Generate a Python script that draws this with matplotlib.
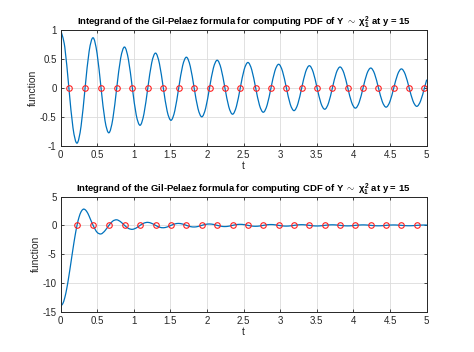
import matplotlib
matplotlib.use("Agg")
import matplotlib.pyplot as plt
from matplotlib.path import Path
from matplotlib.patches import PathPatch
import numpy as np

plt.rcParams['font.family'] = ['Liberation Sans', 'DejaVu Sans']
plt.rcParams['axes.unicode_minus'] = False
plt.rcParams['mathtext.fontset'] = 'custom'
plt.rcParams['mathtext.rm'] = 'Liberation Sans:bold'
plt.rcParams['mathtext.it'] = 'Liberation Sans:bold'
plt.rcParams['mathtext.bf'] = 'Liberation Sans:bold'

# sample positions along t (zeros, extrema and in-between points)
t_vals = [0.0, 0.0561, 0.1120, 0.1679, 0.2234, 0.2788, 0.3338, 0.3885, 0.4431, 0.4973,
          0.5514, 0.6053, 0.6590, 0.7127, 0.7661, 0.8195, 0.8728, 0.9260, 0.9791, 1.0322,
          1.0852, 1.1381, 1.1910, 1.2438, 1.2967, 1.3496, 1.4023, 1.4550, 1.5078, 1.5604,
          1.6131, 1.6658, 1.7184, 1.7711, 1.8237, 1.8763, 1.9289, 1.9814, 2.0340, 2.0865,
          2.1391, 2.1916, 2.2441, 2.2967, 2.3492, 2.4017, 2.4542, 2.5067, 2.5592, 2.6117,
          2.6642, 2.7166, 2.7691, 2.8216, 2.8740, 2.9265, 2.9790, 3.0314, 3.0839, 3.1363,
          3.1888, 3.2412, 3.2937, 3.3461, 3.3985, 3.4510, 3.5034, 3.5558, 3.6083, 3.6607,
          3.7131, 3.7655, 3.8180, 3.8704, 3.9228, 3.9752, 4.0276, 4.0800, 4.1324, 4.1848,
          4.2372, 4.2896, 4.3420, 4.3944, 4.4469, 4.4993, 4.5517, 4.6041, 4.6565, 4.7089,
          4.7613, 4.8137, 4.8661, 4.9184, 4.9708, 5.0]

pdf_vals = [1.000, 0.705, 0.0, -0.688, -0.956, -0.661, 0.0, 0.628, 0.865, 0.595,
            0.0, -0.564, -0.777, -0.536, 0.0, 0.510, 0.705, 0.487, 0.0, -0.467,
            -0.647, -0.448, 0.0, 0.432, 0.600, 0.417, 0.0, -0.403, -0.561, -0.391,
            0.0, 0.379, 0.529, 0.369, 0.0, -0.359, -0.501, -0.350, 0.0, 0.341,
            0.477, 0.333, 0.0, -0.326, -0.456, -0.319, 0.0, 0.313, 0.438, 0.307,
            0.0, -0.301, -0.422, -0.295, 0.0, 0.290, 0.407, 0.285, 0.0, -0.281,
            -0.394, -0.276, 0.0, 0.272, 0.382, 0.268, 0.0, -0.264, -0.370, -0.260,
            0.0, 0.257, 0.360, 0.253, 0.0, -0.250, -0.351, -0.247, 0.0, 0.244,
            0.342, 0.241, 0.0, -0.238, -0.334, -0.235, 0.0, 0.232, 0.327, 0.230,
            0.0, -0.227, -0.320, -0.225, 0.0, 0.134]

cdf_vals = [-14.0, -12.565, -8.820, -4.100, 0.0, 2.370, 2.732, 1.617, 0.0, -1.197,
            -1.486, -0.932, 0.0, 0.752, 0.965, 0.623, 0.0, -0.526, -0.689, -0.452,
            0.0, 0.394, 0.522, 0.347, 0.0, -0.309, -0.413, -0.277, 0.0, 0.250,
            0.337, 0.228, 0.0, -0.208, -0.282, -0.191, 0.0, 0.177, 0.240, 0.164,
            0.0, -0.152, -0.208, -0.142, 0.0, 0.133, 0.182, 0.125, 0.0, -0.117,
            -0.161, -0.111, 0.0, 0.105, 0.144, 0.099, 0.0, -0.094, -0.130, -0.089,
            0.0, 0.085, 0.118, 0.081, 0.0, -0.078, -0.107, -0.074, 0.0, 0.071,
            0.098, 0.068, 0.0, -0.065, -0.091, -0.063, 0.0, 0.060, 0.084, 0.058,
            0.0, -0.056, -0.078, -0.054, 0.0, 0.052, 0.073, 0.050, 0.0, -0.049,
            -0.068, -0.047, 0.0, 0.046, 0.064, 0.057]

# extra points on the steep first rise / first peak of the CDF integrand
cdf_extra_t = [0.028, 0.084, 0.140, 0.196, 0.250, 0.305, 0.317, 0.360]
cdf_extra_v = [-13.63, -10.92, -6.48, -1.86, 1.39, 2.78, 2.817, 2.33]

# marker positions (zeros of the integrands)
pdf_zero_t = [0.1120, 0.3338, 0.5514, 0.7661, 0.9791, 1.1910, 1.4023, 1.6131, 1.8237, 2.0340,
              2.2441, 2.4542, 2.6642, 2.8740, 3.0839, 3.2937, 3.5034, 3.7131, 3.9228, 4.1324,
              4.3420, 4.5517, 4.7613, 4.9708]
cdf_zero_t = [0.2234, 0.4431, 0.6590, 0.8728, 1.0852, 1.2967, 1.5078, 1.7184, 1.9289, 2.1391,
              2.3492, 2.5592, 2.7691, 2.9790, 3.1888, 3.3985, 3.6083, 3.8180, 4.0276, 4.2372,
              4.4469, 4.6565, 4.8661]

cdf_t = np.array(t_vals + cdf_extra_t)
cdf_v = np.array(cdf_vals + cdf_extra_v)
order = np.argsort(cdf_t)
cdf_t, cdf_v = cdf_t[order], cdf_v[order]

line_col = '#0072BD'
ax_col = '#262626'


def smooth_curve(ax, xs, ys, **kw):
    """Draw a smooth (Catmull-Rom style Bezier) line through the given points."""
    xs = np.asarray(xs, float)
    ys = np.asarray(ys, float)
    n = len(xs)
    verts = [(xs[0], ys[0])]
    codes = [Path.MOVETO]
    for i in range(n - 1):
        i0 = max(i - 1, 0)
        i3 = min(i + 2, n - 1)
        c1 = (xs[i] + (xs[i + 1] - xs[i0]) / 6.0, ys[i] + (ys[i + 1] - ys[i0]) / 6.0)
        c2 = (xs[i + 1] - (xs[i3] - xs[i]) / 6.0, ys[i + 1] - (ys[i3] - ys[i]) / 6.0)
        verts += [c1, c2, (xs[i + 1], ys[i + 1])]
        codes += [Path.CURVE4] * 3
    patch = PathPatch(Path(verts, codes), fill=False, transform=ax.transData,
                      capstyle='round', joinstyle='round', **kw)
    ax.add_patch(patch)
    patch.set_clip_path(ax.patch)


fig = plt.figure(figsize=(4.74, 3.52), dpi=100)
ax1 = fig.add_axes([0.128, 0.586, 0.772, 0.329])
ax2 = fig.add_axes([0.128, 0.1145, 0.772, 0.327])


def style(ax, yticks, ylim):
    ax.set_xlim(0, 5)
    ax.set_ylim(*ylim)
    ax.set_xticks([0, 0.5, 1, 1.5, 2, 2.5, 3, 3.5, 4, 4.5, 5])
    ax.set_xticklabels(['0', '0.5', '1', '1.5', '2', '2.5', '3', '3.5', '4', '4.5', '5'])
    ax.set_yticks(yticks)
    ax.grid(True, color='#dcdcdc', linewidth=0.6)
    ax.set_axisbelow(True)
    ax.tick_params(direction='in', length=2.5, width=0.6, labelsize=7, colors=ax_col,
                   top=True, right=True, pad=3)
    for s in ax.spines.values():
        s.set_color(ax_col)
        s.set_linewidth(0.7)
    ax.set_xlabel('t', fontsize=7.5, color=ax_col, labelpad=1)
    ax.set_ylabel('function', fontsize=7.5, color=ax_col, labelpad=1.5)


smooth_curve(ax1, t_vals, pdf_vals, edgecolor=line_col, linewidth=0.9)
ax1.plot(pdf_zero_t, np.zeros(len(pdf_zero_t)), 'o', mfc='none', mec='#ff2020',
         ms=4.0, mew=0.8)
style(ax1, [-1, -0.5, 0, 0.5, 1], (-1, 1))
ax1.set_yticklabels(['-1', '-0.5', '0', '0.5', '1'])
ax1.set_title(r'Integrand of the Gil-Pelaez formula for computing PDF of Y $\sim$ $\chi^2_1$ at y = 15',
              fontsize=6.8, fontweight='bold', pad=3.5)

smooth_curve(ax2, cdf_t, cdf_v, edgecolor=line_col, linewidth=0.9)
ax2.plot(cdf_zero_t, np.zeros(len(cdf_zero_t)), 'o', mfc='none', mec='#ff2020',
         ms=4.0, mew=0.8)
style(ax2, [-15, -10, -5, 0, 5], (-15, 5))
ax2.set_title(r'Integrand of the Gil-Pelaez formula for computing CDF of Y $\sim$ $\chi^2_1$ at y = 15',
              fontsize=6.8, fontweight='bold', pad=3.5)

fig.savefig('out.png', dpi=100)
